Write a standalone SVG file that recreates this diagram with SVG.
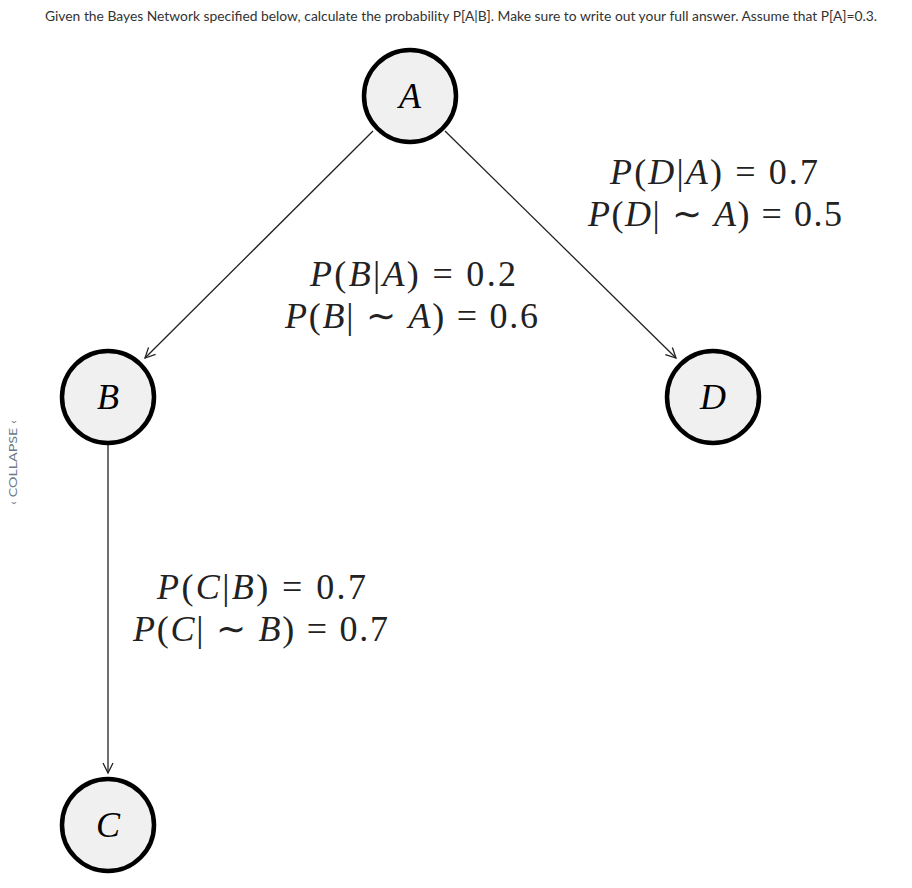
<svg xmlns="http://www.w3.org/2000/svg" width="912" height="888" viewBox="0 0 912 888">
<style>
.node{fill:#f0f0f0;stroke:#000;stroke-width:4.5}
.nl{font-family:"Liberation Serif",serif;font-style:italic;font-size:36px;text-anchor:middle}
.lab{font-family:"Liberation Serif",serif;font-size:36px;fill:#222}
.i{font-style:italic}
.edge{stroke:#222;stroke-width:1.3;fill:none;marker-end:url(#ah)}
</style>
<defs><marker id="ah" markerWidth="14" markerHeight="14" refX="12" refY="7" orient="auto" markerUnits="userSpaceOnUse"><path d="M2,2 L12,7 L2,12" fill="none" stroke="#222" stroke-width="1.3"/></marker></defs>
<rect width="912" height="888" fill="#fff"/>
<text x="45" y="21" font-family="Lato,sans-serif" font-size="12.5" textLength="832" lengthAdjust="spacingAndGlyphs" fill="#333">Given the Bayes Network specified below, calculate the probability P[A|B]. Make sure to write out your full answer. Assume that P[A]=0.3.</text>
<text transform="translate(17,505) rotate(-90)" font-family="Lato,sans-serif" font-size="12" textLength="85" lengthAdjust="spacingAndGlyphs" fill="#6a7a8c">‹ COLLAPSE ‹</text>
<g id="connectors">
<path class="edge" d="M373,131 L145,358"/>
<path class="edge" d="M445,131 L676,358"/>
<path class="edge" d="M108,445 L108,773"/>
</g>
<g id="A"><circle class="node" cx="410" cy="96" r="46"/><text class="nl" x="410" y="108">A</text></g>
<g id="B"><circle class="node" cx="108" cy="397" r="46"/><text class="nl" x="108" y="409">B</text></g>
<g id="D"><circle class="node" cx="713" cy="397" r="46"/><text class="nl" x="713" y="409">D</text></g>
<g id="C"><circle class="node" cx="108" cy="825" r="46"/><text class="nl" x="108" y="837">C</text></g>
<g id="labels">
<text class="lab" x="610" y="184" textLength="208" lengthAdjust="spacing"><tspan class="i">P</tspan>(<tspan class="i">D</tspan>|<tspan class="i">A</tspan>) = 0.7</text>
<text class="lab" x="588" y="226" textLength="254" lengthAdjust="spacing"><tspan class="i">P</tspan>(<tspan class="i">D</tspan>| ∼ <tspan class="i">A</tspan>) = 0.5</text>
<text class="lab" x="310" y="286" textLength="206" lengthAdjust="spacing"><tspan class="i">P</tspan>(<tspan class="i">B</tspan>|<tspan class="i">A</tspan>) = 0.2</text>
<text class="lab" x="285" y="328" textLength="253" lengthAdjust="spacing"><tspan class="i">P</tspan>(<tspan class="i">B</tspan>| ∼ <tspan class="i">A</tspan>) = 0.6</text>
<text class="lab" x="157" y="599" textLength="209" lengthAdjust="spacing"><tspan class="i">P</tspan>(<tspan class="i">C</tspan>|<tspan class="i">B</tspan>) = 0.7</text>
<text class="lab" x="133" y="641" textLength="255" lengthAdjust="spacing"><tspan class="i">P</tspan>(<tspan class="i">C</tspan>| ∼ <tspan class="i">B</tspan>) = 0.7</text>
</g>
</svg>
